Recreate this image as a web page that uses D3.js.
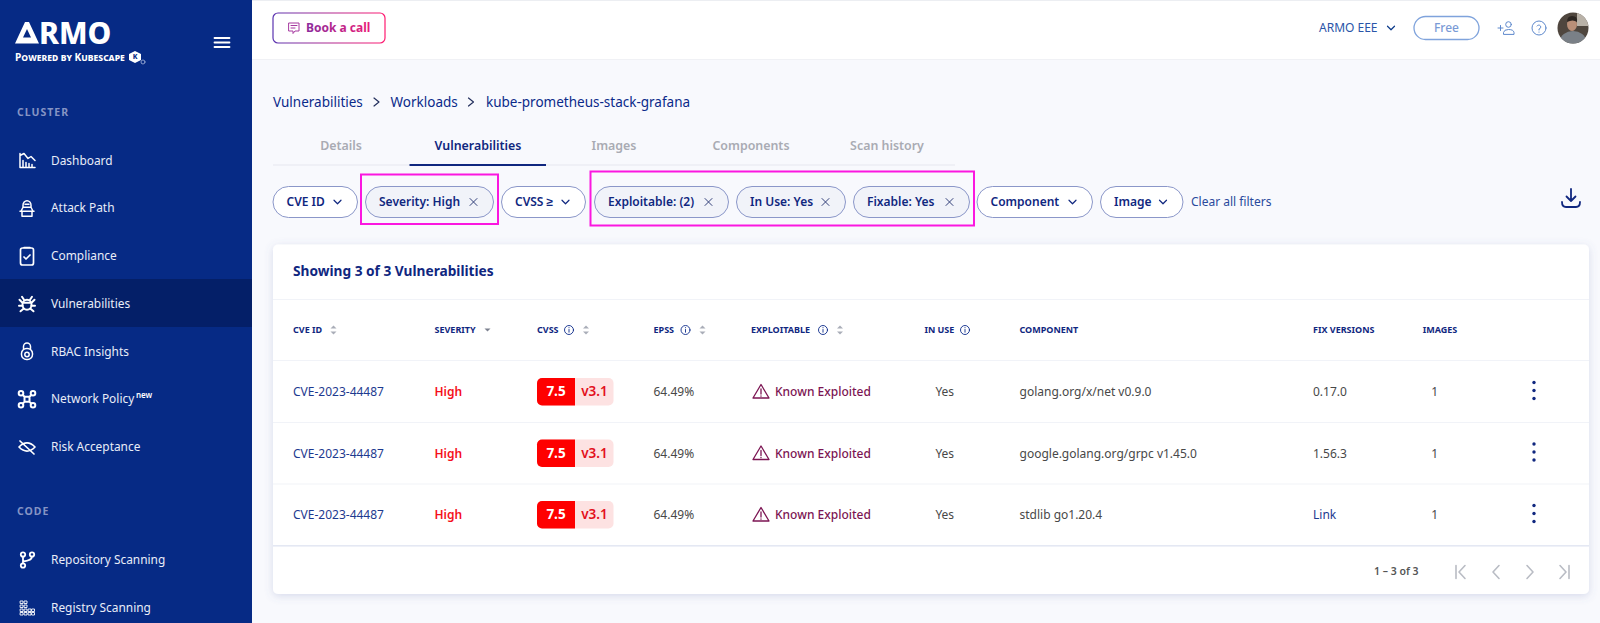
<!DOCTYPE html>
<html>
<head>
<meta charset="utf-8">
<title>Vulnerabilities</title>
<script src="https://cdn.jsdelivr.net/npm/d3@7"></script>
<style>
  html, body { margin: 0; padding: 0; background: #f8f9fd; overflow: hidden; }
  text { font-family: "Noto Sans", sans-serif; }
</style>
</head>
<body>
<svg id="page" width="1600" height="623"></svg>
<script>
// Data
var clusterItems = ["Dashboard", "Attack Path", "Compliance", "Vulnerabilities", "RBAC Insights", "Network Policy", "Risk Acceptance"];
var codeItems = ["Repository Scanning", "Registry Scanning"];
var tabs = ["Details", "Vulnerabilities", "Images", "Components", "Scan history"];
var chipLabels = ["CVE ID", "Severity: High", "CVSS ≥", "Exploitable: (2)", "In Use: Yes", "Fixable: Yes", "Component", "Image"];
var chipActive = [false, true, false, true, true, true, false, false];
var columnLabels = ["CVE ID", "SEVERITY", "CVSS", "EPSS", "EXPLOITABLE", "IN USE", "COMPONENT", "FIX VERSIONS", "IMAGES"];
var cveIds = ["CVE-2023-44487", "CVE-2023-44487", "CVE-2023-44487"];
var severities = ["High", "High", "High"];
var cvssScores = ["7.5", "7.5", "7.5"];
var cvssVersions = ["v3.1", "v3.1", "v3.1"];
var epssValues = ["64.49%", "64.49%", "64.49%"];
var exploitable = ["Known Exploited", "Known Exploited", "Known Exploited"];
var inUse = ["Yes", "Yes", "Yes"];
var components = ["golang.org/x/net v0.9.0", "google.golang.org/grpc v1.45.0", "stdlib go1.20.4"];
var fixVersions = ["0.17.0", "1.56.3", "Link"];
var imageCounts = ["1", "1", "1"];

var navy = "#0b2a8a";
var sideBlue = "#062a85";
var grayIcon = "#b9bcc4";

var svg = d3.select("#page");

function label(parent, x, y, str, size, color, weight, anchor) {
  return parent.append("text")
    .attr("x", x).attr("y", y).attr("dy", "0.35em")
    .attr("font-size", size)
    .attr("fill", color)
    .attr("font-weight", weight || 400)
    .attr("text-anchor", anchor || "start")
    .text(str);
}

function icon(parent, x, y, color, width) {
  return parent.append("g")
    .attr("transform", "translate(" + x + "," + y + ")")
    .attr("fill", "none")
    .attr("stroke", color)
    .attr("stroke-width", width || 1.5)
    .attr("stroke-linecap", "round")
    .attr("stroke-linejoin", "round");
}

function chevronDown(parent, x, y, color) {
  icon(parent, x, y, color, 1.2).append("path").attr("d", "M-3.5,-1.75L0,1.75L3.5,-1.75");
}

function closeX(parent, x, y, color) {
  icon(parent, x, y, color, 1).append("path").attr("d", "M-3.5,-3.5L3.5,3.5M3.5,-3.5L-3.5,3.5");
}

function infoIcon(parent, x, y) {
  var g = icon(parent, x, y, navy, 0.9);
  g.append("circle").attr("r", 4.5);
  g.append("path").attr("d", "M0,-0.5V2.2M0,-2.4V-2.2");
}

function sortArrows(parent, x, y) {
  var g = parent.append("g").attr("transform", "translate(" + x + "," + y + ")").attr("fill", "#a9adb8");
  g.append("path").attr("d", "M-3,-1.5L0,-4.5L3,-1.5Z");
  g.append("path").attr("d", "M-3,1.5L0,4.5L3,1.5Z");
}

// ---- Sidebar
var side = svg.append("g");
side.append("rect").attr("width", 252).attr("height", 623).attr("fill", sideBlue);

var clusterY = d3.scalePoint().domain(clusterItems).range([160.5, 447]);
var codeY = d3.scalePoint().domain(codeItems).range([559.5, 607.5]);

side.append("rect").attr("y", 279).attr("width", 252).attr("height", 48).attr("fill", "#041f68");

// logo
var logo = side.append("g");
logo.append("path").attr("d", "M15,43.5L25,22H29L39,43.5ZM23,37.5H31L27,29Z").attr("fill", "#fff").attr("fill-rule", "evenodd");
label(logo, 39, 33, "RMO", 30, "#fff", 800);
label(logo, 15, 57.5, "Powered by Kubescape", 10.2, "#fff", 700).style("font-variant", "small-caps");
logo.append("path").attr("d", "M135,51L141,54V60L135,63L129,60V54Z").attr("fill", "#fff");
label(logo, 135, 57, "K", 7, sideBlue, 800, "middle");
icon(logo, 143, 62, "#aab7dc", 0.8).append("circle").attr("r", 2);

// hamburger
var burger = icon(side, 222, 42.5, "#fff", 1.8);
burger.append("path").attr("d", "M-7.5,-4.5H7.5M-7.5,0H7.5M-7.5,4.5H7.5");

label(side, 17, 112, "CLUSTER", 10.5, "#8594c4", 700).attr("letter-spacing", 1);
label(side, 17, 511, "CODE", 10.5, "#8594c4", 700).attr("letter-spacing", 1);

clusterItems.forEach(function(d) {
  label(side, 51, clusterY(d), d, 11.9, "#e9edf8");
});
codeItems.forEach(function(d) {
  label(side, 51, codeY(d), d, 11.9, "#e9edf8");
});
label(side, 136, clusterY("Network Policy") - 4, "new", 8, "#fff", 600);

var sideIcons = {
  "Dashboard": function(g) {
    g.append("path").attr("d", "M-7,-7V7H8M-4,6V0M-1,6V2M2,6V3M5,6V4M-7,-5L-3,-7L1,-2L4,-4L8,0");
  },
  "Attack Path": function(g) {
    g.append("path").attr("d", "M-4,-3A4,4.5 0 0 1 4,-3V-1H-4ZM-7,3H7M-6,3L-4,-1M6,3L4,-1M-5,3V8H5V3M-2,-4H2");
  },
  "Compliance": function(g) {
    g.attr("stroke-width", 1.7);
    g.append("rect").attr("x", -6.5).attr("y", -8).attr("width", 13).attr("height", 17).attr("rx", 2);
    g.append("path").attr("d", "M-3,1L-1,3L3,-1M-3,-8.5H3");
  },
  "Vulnerabilities": function(g) {
    g.attr("stroke-width", 2);
    g.append("ellipse").attr("rx", 4.5).attr("ry", 5).attr("cy", 1);
    g.append("path").attr("d", "M-3,-4L-5,-7M3,-4L5,-7M-4.5,-1L-7.5,-4M4.5,-1L7.5,-4M-4.5,2H-8M4.5,2H8M-3.5,5L-6.5,7.5M3.5,5L6.5,7.5M-3,-1H3");
  },
  "RBAC Insights": function(g) {
    g.append("path").attr("d", "M-3.5,-3V-5A3.5,3.5 0 0 1 3.5,-5V-3");
    g.append("rect").attr("x", -5.5).attr("y", -3).attr("width", 11).attr("height", 11).attr("rx", 5);
    g.append("circle").attr("cy", 3).attr("r", 2.2);
  },
  "Network Policy": function(g) {
    g.attr("stroke-width", 2);
    g.append("circle").attr("cx", -6).attr("cy", -6).attr("r", 2.3);
    g.append("circle").attr("cx", 6).attr("cy", -6).attr("r", 2.3);
    g.append("circle").attr("cx", -6).attr("cy", 6).attr("r", 2.3);
    g.append("circle").attr("cx", 6).attr("cy", 6).attr("r", 2.3);
    g.append("path").attr("d", "M-4,-4L-2.5,-2.5V2.5L-4,4M4,-4L2.5,-2.5V2.5L4,4M-2.5,-2.5H2.5M-2.5,2.5H2.5");
  },
  "Risk Acceptance": function(g) {
    g.attr("stroke-width", 1.7);
    g.append("path").attr("d", "M-8,0Q0,-8 8,0Q0,8 -8,0ZM-7,-6L7,7");
  },
  "Repository Scanning": function(g) {
    g.attr("stroke-width", 1.8);
    g.append("circle").attr("cx", -4).attr("cy", -5).attr("r", 2.2);
    g.append("circle").attr("cx", 5).attr("cy", -5).attr("r", 2.2);
    g.append("circle").attr("cx", -4).attr("cy", 6).attr("r", 2.2);
    g.append("path").attr("d", "M-4,-3V4M5,-3Q5,1 -4,2");
  },
  "Registry Scanning": function(g) {
    g.attr("stroke-width", 0.9);
    [-6.5, -2.5, 1.5, 5].forEach(function(cy) {
      [-6.5, -2.5].forEach(function(cx) {
        g.append("rect").attr("x", cx).attr("y", cy).attr("width", 2.5).attr("height", 2.5);
      });
    });
    [1.5, 5].forEach(function(cx) {
      g.append("rect").attr("x", cx).attr("y", 1.5).attr("width", 2.5).attr("height", 2.5);
      g.append("rect").attr("x", cx).attr("y", 5).attr("width", 2.5).attr("height", 2.5);
    });
  }
};
clusterItems.forEach(function(d) {
  sideIcons[d](icon(side, 27, clusterY(d), "#fff", 1.5));
});
codeItems.forEach(function(d) {
  sideIcons[d](icon(side, 27, codeY(d), "#fff", 1.5));
});

// ---- Top bar
var topBar = svg.append("g");
topBar.append("rect").attr("x", 252).attr("width", 1348).attr("height", 59).attr("fill", "#fff");
topBar.append("rect").attr("x", 252).attr("y", 59).attr("width", 1348).attr("height", 1).attr("fill", "#f0f1f5");
topBar.append("rect").attr("x", 252).attr("width", 1348).attr("height", 1).attr("fill", "#eceef2");

var defs = svg.append("defs");
var grad = defs.append("linearGradient").attr("id", "bookGrad")
  .attr("gradientUnits", "userSpaceOnUse")
  .attr("x1", 273).attr("x2", 385).attr("y1", 0).attr("y2", 0);
grad.append("stop").attr("offset", "0%").attr("stop-color", "#5a34b0");
grad.append("stop").attr("offset", "100%").attr("stop-color", "#ff1a70");

topBar.append("rect").attr("x", 273).attr("y", 13).attr("width", 112).attr("height", 30).attr("rx", 5)
  .attr("fill", "#fff").attr("stroke", "url(#bookGrad)").attr("stroke-width", 1.2);
var chat = icon(topBar, 294, 28, "#a63aa0", 1);
chat.append("path").attr("d", "M-5,-5H5V3H1L-1,5.5V3H-5ZM-3,-2.5H3M-3,0H1");
label(topBar, 306, 28, "Book a call", 12, "url(#bookGrad)", 700);

label(topBar, 1319, 28, "ARMO EEE", 12, "#2a55a8");
chevronDown(topBar, 1391, 28, "#0b3a8a");
topBar.append("rect").attr("x", 1414).attr("y", 16.5).attr("width", 65).attr("height", 23).attr("rx", 11.5)
  .attr("fill", "#fff").attr("stroke", "#7fa3dc").attr("stroke-width", 1.3);
label(topBar, 1446.5, 28, "Free", 12, "#7a9bd6", 500, "middle");

var addUser = icon(topBar, 1506, 28, "#5d88cc", 1);
addUser.append("circle").attr("cx", 2.5).attr("cy", -3.5).attr("r", 2.8);
addUser.append("path").attr("d", "M-2.5,6V4.5Q-2,1.5 2.5,1.5Q7.5,1.5 8,4.5V6ZM-8,0H-3M-5.5,-2.5V2.5");
var help = icon(topBar, 1539, 28, "#5d88cc", 1);
help.append("circle").attr("r", 7);
help.append("path").attr("d", "M-2,-2A2,2 0 1 1 0,1V2M0,4V4.2");

// avatar, just flat shapes
var avatar = topBar.append("g").attr("transform", "translate(1573,28)");
defs.append("clipPath").attr("id", "avatarClip").append("circle").attr("r", 15.5);
var face = avatar.append("g").attr("clip-path", "url(#avatarClip)");
face.append("rect").attr("x", -16).attr("y", -16).attr("width", 32).attr("height", 32).attr("fill", "#4f463e");
face.append("rect").attr("x", 4).attr("y", -16).attr("width", 12).attr("height", 14).attr("fill", "#b9b2a8");
face.append("ellipse").attr("cy", 13).attr("rx", 13).attr("ry", 10).attr("fill", "#7a8087");
face.append("ellipse").attr("cx", -1).attr("cy", -4).attr("rx", 5).attr("ry", 7).attr("fill", "#b98f78");
face.append("path").attr("d", "M-6,-6Q-6,-12 -1,-12Q5,-12 4,-6Q0,-9 -6,-6Z").attr("fill", "#2c2622");

// ---- Breadcrumb
var crumbs = svg.append("g").attr("class", "crumbs");
label(crumbs, 273, 102, "Vulnerabilities", 13.5, navy);
icon(crumbs, 376.5, 102, "#222e5c", 1.2).append("path").attr("d", "M-2.5,-4L2.5,0L-2.5,4");
label(crumbs, 390.5, 102, "Workloads", 13.5, navy);
icon(crumbs, 471, 102, "#222e5c", 1.2).append("path").attr("d", "M-2.5,-4L2.5,0L-2.5,4");
label(crumbs, 486, 102, "kube-prometheus-stack-grafana", 13.5, navy);

// ---- Tabs
var tabX = d3.scaleOrdinal().domain(tabs).range([341, 478, 614, 751, 887]);
var tabRow = svg.append("g");
tabRow.append("rect").attr("x", 273).attr("y", 164.5).attr("width", 682).attr("height", 1).attr("fill", "#e6e8ef");
tabRow.append("rect").attr("x", 409.5).attr("y", 164).attr("width", 136.5).attr("height", 2).attr("fill", "#10277f");
tabs.forEach(function(d) {
  var on = d == "Vulnerabilities";
  label(tabRow, tabX(d), 145.5, d, 12.4, on ? "#10277f" : "#a9abb3", 600, "middle");
});

// ---- Filter chips
var chipLeft = d3.scaleOrdinal().domain(chipLabels).range([272.5, 365, 501, 594, 736, 853, 976.5, 1100]);
var chipRight = d3.scaleOrdinal().domain(chipLabels).range([358, 494, 586, 729, 846, 970, 1093, 1183.5]);
var chips = svg.append("g");
chipLabels.forEach(function(d, i) {
  var x0 = chipLeft(d), x1 = chipRight(d);
  chips.append("rect").attr("x", x0 + 0.5).attr("y", 186.5).attr("width", x1 - x0 - 1).attr("height", 31).attr("rx", 15.5)
    .attr("fill", chipActive[i] ? "#f1f3f9" : "#fff")
    .attr("stroke", "#8b97c9").attr("stroke-width", 1);
  label(chips, x0 + 14, 202, d, 12, "#10277f", 600);
  if (chipActive[i]) {
    closeX(chips, x1 - 20.5, 202, "#33407a");
  } else {
    chevronDown(chips, x1 - 20.5, 202, "#10277f");
  }
});
label(chips, 1191, 202, "Clear all filters", 12, "#2a4a9c");

var download = icon(svg, 1571, 198, "#10277f", 1.8);
download.append("path").attr("d", "M0,-9V3M-4.5,-1.5L0,3L4.5,-1.5M-9,4Q-9,9 -5,9H5Q9,9 9,4");

// pink highlight boxes
var boxes = svg.append("g").attr("fill", "none").attr("stroke", "#fb17e0").attr("stroke-width", 2);
boxes.append("rect").attr("x", 361).attr("y", 174.5).attr("width", 137).attr("height", 49.5);
boxes.append("rect").attr("x", 590.5).attr("y", 171.5).attr("width", 383.5).attr("height", 54);

// ---- Table card
var shadow = defs.append("filter").attr("id", "cardShadow").attr("x", "-5%").attr("y", "-5%").attr("width", "110%").attr("height", "115%");
shadow.append("feDropShadow").attr("dx", 0).attr("dy", 2).attr("stdDeviation", 4).attr("flood-color", "#5a6aa8").attr("flood-opacity", 0.22);

var card = svg.append("g");
card.append("rect").attr("x", 273).attr("y", 244.5).attr("width", 1316).attr("height", 349.5).attr("rx", 5)
  .attr("fill", "#fff").attr("filter", "url(#cardShadow)");
label(card, 293, 271.5, "Showing 3 of 3 Vulnerabilities", 13.7, "#10277f", 700);

var colX = d3.scaleOrdinal().domain(columnLabels).range([293, 434.5, 537, 653.5, 751, 924.4, 1019.5, 1313, 1422.7]);
var rowIndex = cveIds.map(function(d, i) { return i; });
var rowY = d3.scalePoint().domain(rowIndex).range([392, 515]);
var rowLines = [299, 360, 422, 483.5];

columnLabels.forEach(function(d) {
  label(card, colX(d), 330, d, 9, "#10277f", 700);
});
sortArrows(card, 333.5, 330);
card.append("path").attr("d", "M484.5,328.5H490.5L487.5,331.5Z").attr("fill", "#7d8190");
infoIcon(card, 569, 330);
sortArrows(card, 586, 330);
infoIcon(card, 685.5, 330);
sortArrows(card, 702.5, 330);
infoIcon(card, 823, 330);
sortArrows(card, 840, 330);
infoIcon(card, 965, 330);

rowLines.forEach(function(y) {
  card.append("rect").attr("x", 273).attr("y", y).attr("width", 1316).attr("height", 1).attr("fill", "#f1f3f8");
});
card.append("rect").attr("x", 273).attr("y", 545).attr("width", 1316).attr("height", 1.6).attr("fill", "#e4e8f3");

rowIndex.forEach(function(i) {
  var y = rowY(i);
  label(card, colX("CVE ID"), y, cveIds[i], 12, "#1d3a8f");
  label(card, colX("SEVERITY"), y, severities[i], 12, "#f5101a", 600);

  // cvss badge, red score on the left and pale version on the right
  var bx = colX("CVSS");
  card.append("rect").attr("x", bx).attr("y", y - 14).attr("width", 76.5).attr("height", 27.5).attr("rx", 5).attr("fill", "#fde2e2");
  card.append("path")
    .attr("d", "M" + (bx + 38) + "," + (y - 14) + "H" + (bx + 5) + "a5,5 0 0 0 -5,5V" + (y + 8.5) + "a5,5 0 0 0 5,5H" + (bx + 38) + "Z")
    .attr("fill", "#fe0000");
  label(card, bx + 19, y - 0.5, cvssScores[i], 13.5, "#fff", 700, "middle");
  label(card, bx + 57.5, y - 0.5, cvssVersions[i], 13.5, "#e3101c", 600, "middle");

  label(card, colX("EPSS"), y, epssValues[i], 12, "#484848");

  var ex = colX("EXPLOITABLE");
  var warn = icon(card, ex + 10, y - 0.5, "#7c1553", 1.3);
  warn.append("path").attr("d", "M0,-7L8,6.5H-8Z");
  warn.append("path").attr("d", "M0,-2.5V2.5M0,4.5V4.7");
  label(card, ex + 24, y, exploitable[i], 12, "#7c1553", 500);

  label(card, colX("IN USE") + 11, y, inUse[i], 12, "#484848");
  label(card, colX("COMPONENT"), y, components[i], 12, "#484848");
  label(card, colX("FIX VERSIONS"), y, fixVersions[i], 12, fixVersions[i] == "Link" ? "#1d3a8f" : "#484848");
  label(card, colX("IMAGES") + 12, y, imageCounts[i], 12, "#484848", 400, "middle");

  var kebab = card.append("g").attr("transform", "translate(1534," + (y - 1.5) + ")").attr("fill", "#10277f");
  [-8, 0, 8].forEach(function(dy) {
    kebab.append("circle").attr("cy", dy).attr("r", 1.7);
  });
});

// pagination
label(card, 1374, 571, "1 – 3 of 3", 10.5, "#555", 600);
var pg1 = icon(card, 1462, 572, grayIcon, 1.6);
pg1.append("path").attr("d", "M-6,-6.5V6.5M3,-6.5L-3,0L3,6.5");
icon(card, 1496, 572, grayIcon, 1.6).append("path").attr("d", "M3,-6.5L-3,0L3,6.5");
icon(card, 1530, 572, grayIcon, 1.6).append("path").attr("d", "M-3,-6.5L3,0L-3,6.5");
var pg4 = icon(card, 1563, 572, grayIcon, 1.6);
pg4.append("path").attr("d", "M6,-6.5V6.5M-3,-6.5L3,0L-3,6.5");
</script>
</body>
</html>
